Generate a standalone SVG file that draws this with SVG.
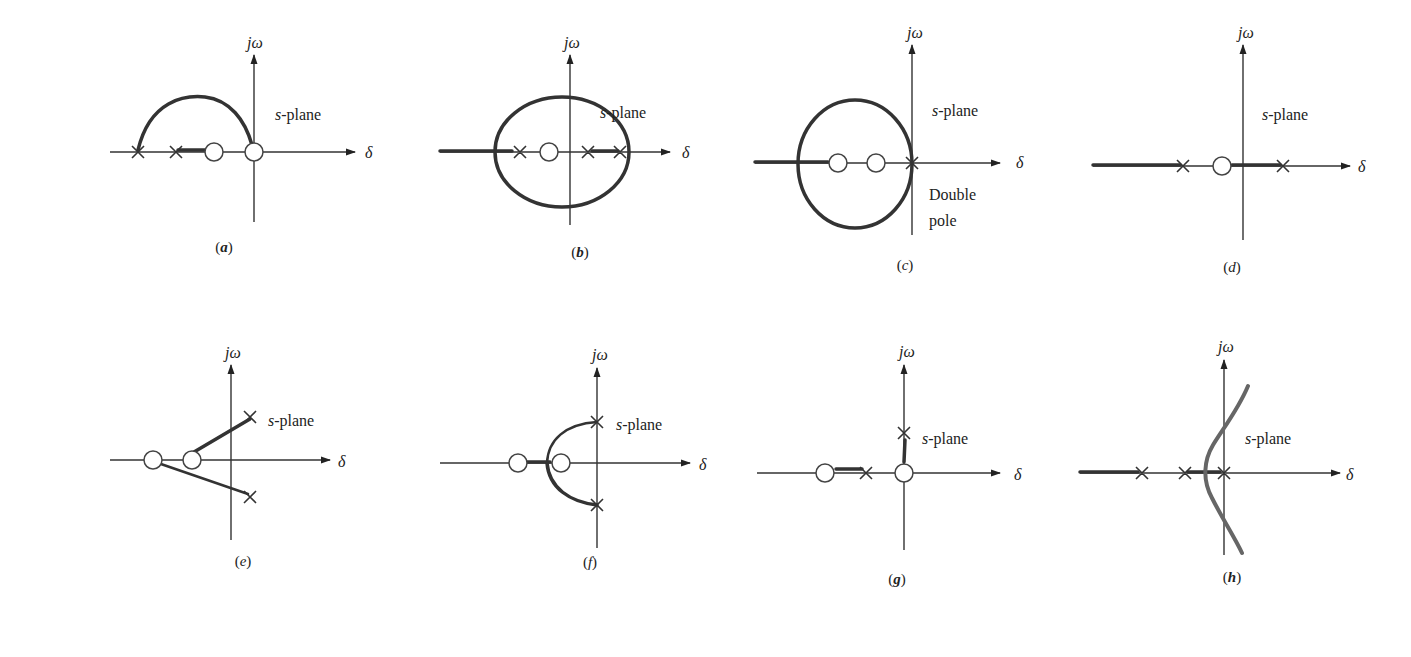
<svg xmlns="http://www.w3.org/2000/svg" width="1411" height="657" viewBox="0 0 1411 657">
<defs>
<marker id="ar" viewBox="0 0 10 10" refX="9" refY="5" markerWidth="7" markerHeight="7" orient="auto-start-reverse" markerUnits="userSpaceOnUse"><path d="M0,1.5 L10,5 L0,8.5 z" fill="#222"/></marker>
<marker id="arL" viewBox="0 0 10 10" refX="9" refY="5" markerWidth="14" markerHeight="10" orient="auto" markerUnits="userSpaceOnUse"><path d="M0,1.5 L10,5 L0,8.5 z" fill="#222"/></marker>
</defs>
<style>
.ax{stroke:#333;stroke-width:1.4;fill:none}
.lc{stroke:#333;stroke-width:3.5;fill:none;stroke-linecap:round}
.lm{stroke:#333;stroke-width:2.5;fill:none;stroke-linecap:round}
.lg{stroke:#666;stroke-width:4;fill:none;stroke-linecap:round}
.z{fill:#fff;stroke:#444;stroke-width:1.5}
.x{stroke:#333;stroke-width:1.6;fill:none}
text{font-family:"Liberation Serif",serif;fill:#222}
.t{font-size:16px}
.i{font-size:16px;font-style:italic}
.c{font-size:15px;text-anchor:middle}
</style>
<rect width="1411" height="657" fill="#fff"/>

<g id="panel-a">
<line class="ax" x1="110" y1="152" x2="355" y2="152" marker-end="url(#arL)"/>
<line class="ax" x1="254" y1="222" x2="254" y2="55" marker-end="url(#arL)"/>
<path class="lc" d="M138,150 C150,100 185,95 205,97 C230,100 245,120 252,145"/>
<line class="lc" x1="178" y1="150" x2="206" y2="150"/>
<path class="x" d="M132,146 l12,12 M144,146 l-12,12 M170,146 l12,12 M182,146 l-12,12"/>
<circle class="z" cx="214" cy="152" r="9"/><circle class="z" cx="254" cy="152" r="9"/>
<text class="i" x="247" y="48">jω</text>
<text class="t" x="275" y="120"><tspan font-style="italic">s</tspan>-plane</text>
<text class="i" x="365" y="158">δ</text>
<text class="c" x="224" y="252">(<tspan font-style="italic" font-weight="bold">a</tspan>)</text>
</g>

<g id="panel-b">
<line class="ax" x1="440" y1="152" x2="670" y2="152" marker-end="url(#arL)"/>
<line class="ax" x1="570" y1="225" x2="570" y2="55" marker-end="url(#arL)"/>
<ellipse class="lc" cx="562" cy="152" rx="67" ry="55"/>
<line class="lc" x1="440" y1="151" x2="512" y2="151"/>
<line class="lc" x1="592" y1="151" x2="618" y2="151"/>
<path class="x" d="M514,146 l12,12 M526,146 l-12,12 M582,146 l12,12 M594,146 l-12,12 M614,146 l12,12 M626,146 l-12,12"/>
<circle class="z" cx="549" cy="152" r="9"/>
<text class="i" x="564" y="48">jω</text>
<text class="t" x="600" y="118"><tspan font-style="italic">s</tspan>-plane</text>
<text class="i" x="682" y="158">δ</text>
<text class="c" x="580" y="257">(<tspan font-style="italic" font-weight="bold">b</tspan>)</text>
</g>

<g id="panel-c">
<line class="ax" x1="755" y1="163" x2="1000" y2="163" marker-end="url(#arL)"/>
<line class="ax" x1="912" y1="235" x2="912" y2="45" marker-end="url(#arL)"/>
<ellipse class="lc" cx="855" cy="164" rx="57" ry="64"/>
<line class="lc" x1="755" y1="162" x2="828" y2="162"/>
<path class="x" d="M906,157 l12,12 M918,157 l-12,12"/>
<circle class="z" cx="838" cy="163" r="9"/><circle class="z" cx="876" cy="163" r="9"/>
<text class="i" x="907" y="38">jω</text>
<text class="t" x="932" y="116"><tspan font-style="italic">s</tspan>-plane</text>
<text class="t" x="929" y="200">Double</text>
<text class="t" x="929" y="226">pole</text>
<text class="i" x="1016" y="168">δ</text>
<text class="c" x="905" y="270">(<tspan font-style="italic">c</tspan>)</text>
</g>

<g id="panel-d">
<line class="ax" x1="1093" y1="166" x2="1350" y2="166" marker-end="url(#arL)"/>
<line class="ax" x1="1243" y1="240" x2="1243" y2="45" marker-end="url(#arL)"/>
<line class="lc" x1="1093" y1="165" x2="1180" y2="165"/>
<line class="lc" x1="1232" y1="165" x2="1280" y2="165"/>
<path class="x" d="M1177,160 l12,12 M1189,160 l-12,12 M1277,160 l12,12 M1289,160 l-12,12"/>
<circle class="z" cx="1222" cy="166" r="9"/>
<text class="i" x="1238" y="38">jω</text>
<text class="t" x="1262" y="120"><tspan font-style="italic">s</tspan>-plane</text>
<text class="i" x="1358" y="172">δ</text>
<text class="c" x="1232" y="272">(<tspan font-style="italic">d</tspan>)</text>
</g>

<g id="panel-e">
<line class="ax" x1="110" y1="460" x2="330" y2="460" marker-end="url(#arL)"/>
<line class="ax" x1="231" y1="540" x2="231" y2="365" marker-end="url(#arL)"/>
<line class="lc" x1="194" y1="452" x2="250" y2="419"/>
<line class="lm" x1="158" y1="463" x2="248" y2="494"/>
<path class="x" d="M244,411 l12,12 M256,411 l-12,12 M244,491 l12,12 M256,491 l-12,12"/>
<circle class="z" cx="153" cy="460" r="9"/><circle class="z" cx="192" cy="460" r="9"/>
<text class="i" x="225" y="358">jω</text>
<text class="t" x="268" y="426"><tspan font-style="italic">s</tspan>-plane</text>
<text class="i" x="338" y="467">δ</text>
<text class="c" x="243" y="566">(<tspan font-style="italic">e</tspan>)</text>
</g>

<g id="panel-f">
<line class="ax" x1="440" y1="463" x2="690" y2="463" marker-end="url(#arL)"/>
<line class="ax" x1="597" y1="548" x2="597" y2="368" marker-end="url(#arL)"/>
<path class="lm" d="M597,422 C565,424 548,440 547,463"/>
<path class="lc" d="M547,463 C549,488 570,502 597,505"/>
<line class="lc" x1="527" y1="462" x2="550" y2="462"/>
<path class="x" d="M591,416 l12,12 M603,416 l-12,12 M591,499 l12,12 M603,499 l-12,12"/>
<circle class="z" cx="518" cy="463" r="9"/><circle class="z" cx="561" cy="463" r="9"/>
<text class="i" x="592" y="360">jω</text>
<text class="t" x="616" y="430"><tspan font-style="italic">s</tspan>-plane</text>
<text class="i" x="699" y="470">δ</text>
<text class="c" x="590" y="567">(<tspan font-style="italic">f</tspan>)</text>
</g>

<g id="panel-g">
<line class="ax" x1="757" y1="473" x2="1000" y2="473" marker-end="url(#arL)"/>
<line class="ax" x1="904" y1="550" x2="904" y2="365" marker-end="url(#arL)"/>
<line class="lc" x1="836" y1="469" x2="862" y2="469"/>
<line class="lc" x1="904" y1="462" x2="905" y2="440"/>
<path class="x" d="M860,467 l12,12 M872,467 l-12,12 M898,427 l12,12 M910,427 l-12,12"/>
<circle class="z" cx="825" cy="473" r="9"/><circle class="z" cx="904" cy="473" r="9"/>
<text class="i" x="899" y="357">jω</text>
<text class="t" x="922" y="444"><tspan font-style="italic">s</tspan>-plane</text>
<text class="i" x="1014" y="480">δ</text>
<text class="c" x="897" y="584">(<tspan font-style="italic" font-weight="bold">g</tspan>)</text>
</g>

<g id="panel-h">
<line class="ax" x1="1080" y1="473" x2="1340" y2="473" marker-end="url(#arL)"/>
<line class="ax" x1="1224" y1="555" x2="1224" y2="360" marker-end="url(#arL)"/>
<line class="lc" x1="1080" y1="472" x2="1138" y2="472"/>
<line class="lc" x1="1188" y1="472" x2="1220" y2="472"/>
<path class="lg" d="M1248,386 C1238,410 1222,430 1213,445 C1204,460 1202,480 1212,498 C1222,518 1235,538 1242,553"/>
<path class="x" d="M1136,467 l12,12 M1148,467 l-12,12 M1179,467 l12,12 M1191,467 l-12,12 M1218,467 l12,12 M1230,467 l-12,12"/>
<text class="i" x="1218" y="352">jω</text>
<text class="t" x="1245" y="444"><tspan font-style="italic">s</tspan>-plane</text>
<text class="i" x="1346" y="480">δ</text>
<text class="c" x="1232" y="582">(<tspan font-style="italic" font-weight="bold">h</tspan>)</text>
</g>
</svg>
